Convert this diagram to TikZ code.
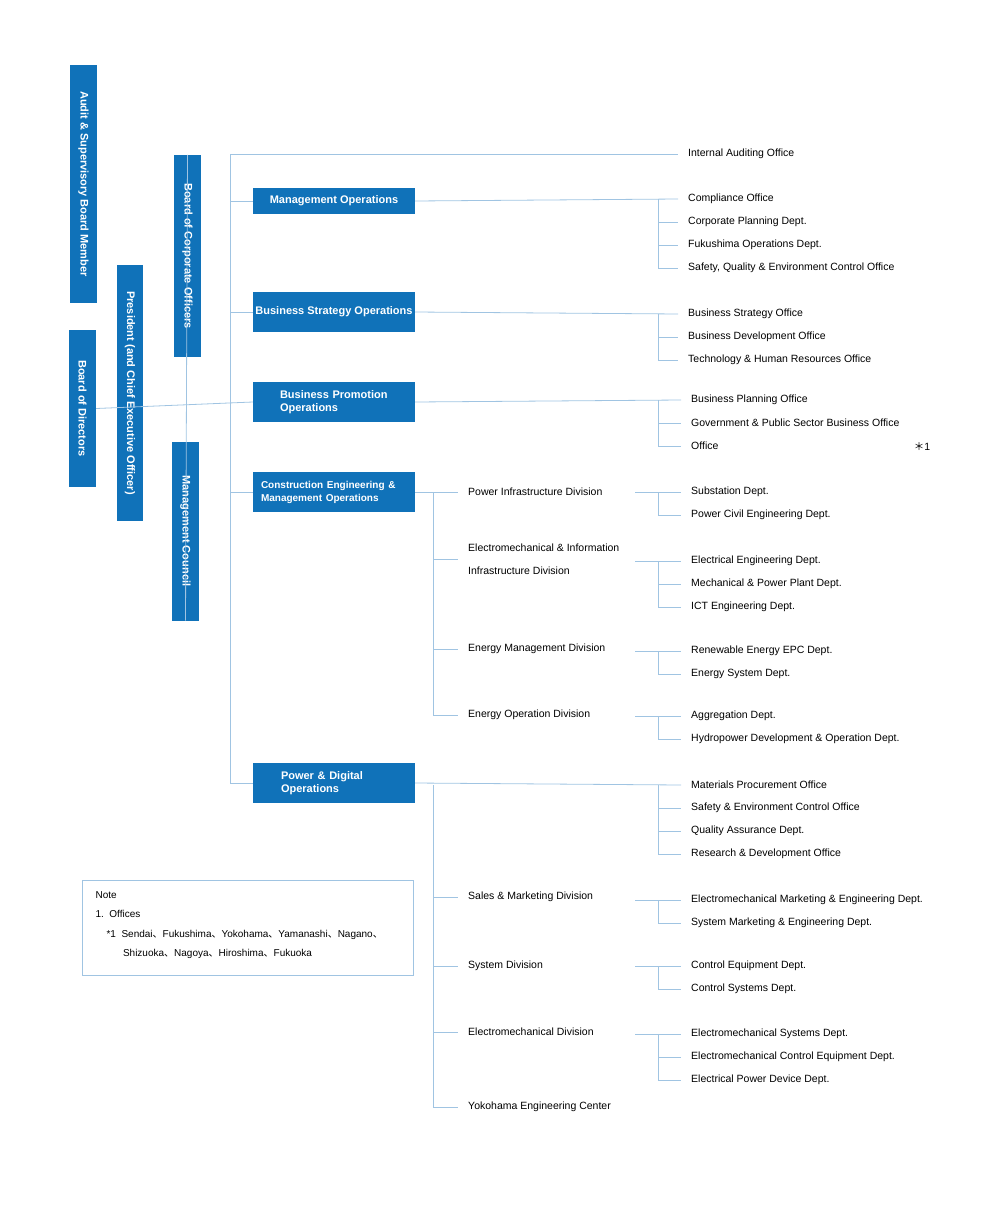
\documentclass[tikz,border=0pt]{standalone}
\usepackage{fontspec}
\setmainfont{Liberation Sans}
\newfontfamily\cjk{Noto Sans CJK JP}
\definecolor{boxblue}{RGB}{16,114,185}
\definecolor{linkblue}{RGB}{160,196,226}
\begin{document}
\begin{tikzpicture}[x=1pt,y=-1pt,
  vbox/.style={fill=boxblue,text=white,font=\bfseries\fontsize{11}{13}\selectfont,rotate=-90,inner sep=0pt},
  obox/.style={fill=boxblue,text=white,font=\bfseries\fontsize{11}{13}\selectfont,minimum width=162pt,align=left,inner sep=0pt},
  item/.style={anchor=west,inner xsep=10pt,inner ysep=1pt,font=\fontsize{10.5}{23}\selectfont,align=left},
  link/.style={draw=linkblue,line width=0.8pt}]
\useasboundingbox (0,0) rectangle (1000,1215);

% top management
\node[vbox,minimum width=238pt,minimum height=27pt] (audit) at (83.5,184) {Audit \& Supervisory Board Member};
\node[vbox,minimum width=157pt,minimum height=27pt] (board) at (82.5,408.5) {Board of Directors};
\node[vbox,minimum width=256pt,minimum height=26pt] (pres) at (130,393) {President (and Chief Executive Officer)};
\node[vbox,minimum width=202pt,minimum height=27pt] (bco) at (187.5,256) {Board of Corporate Officers};
\node[vbox,minimum width=179pt,minimum height=27pt] (council) at (185.5,531) {Management Council};

% operations
\node[obox,minimum height=26pt,align=center] (mgmt) at (334,201) {Management Operations};
\node[obox,minimum height=40pt,align=center] (strat) at (334,312) {Business Strategy Operations};
\node[obox,minimum height=40pt,text width=108pt] (promo) at (334,402) {Business Promotion\\Operations};
\node[obox,minimum height=40pt,text width=146pt] (cons) at (334,492) {\fontsize{10}{13}\selectfont Construction Engineering \&\\Management Operations};
\node[obox,minimum height=40pt,text width=106pt] (power) at (334,783) {Power \& Digital\\Operations};

% offices
\node[item] (audoff) at (678,154) {Internal Auditing Office};
\node[item] (m1) at (678,199) {Compliance Office};
\node[item] (m2) at (678,222) {Corporate Planning Dept.};
\node[item] (m3) at (678,245) {Fukushima Operations Dept.};
\node[item] (m4) at (678,268) {Safety, Quality \& Environment Control Office};
\node[item] (s1) at (678,314) {Business Strategy Office};
\node[item] (s2) at (678,337) {Business Development Office};
\node[item] (s3) at (678,360) {Technology \& Human Resources Office};
\node[item] (p1) at (681,400) {Business Planning Office};
\node[item] (p2) at (681,423) {Government \& Public Sector Business Office};
\node[item] (p3) at (681,446) {Office};
\node[font=\fontsize{10.5}{12}\selectfont] (star) at (922,447) {{\cjk ＊}1};

% construction divisions
\node[item] (c1) at (458,492) {Power Infrastructure Division};
\node[item] (c2) at (458,559) {Electromechanical \& Information\\Infrastructure Division};
\node[item] (c3) at (458,649) {Energy Management Division};
\node[item] (c4) at (458,715) {Energy Operation Division};
\node[item] (c1a) at (681,492) {Substation Dept.};
\node[item] (c1b) at (681,515) {Power Civil Engineering Dept.};
\node[item] (c2a) at (681,561) {Electrical Engineering Dept.};
\node[item] (c2b) at (681,584) {Mechanical \& Power Plant Dept.};
\node[item] (c2c) at (681,607) {ICT Engineering Dept.};
\node[item] (c3a) at (681,651) {Renewable Energy EPC Dept.};
\node[item] (c3b) at (681,674) {Energy System Dept.};
\node[item] (c4a) at (681,716) {Aggregation Dept.};
\node[item] (c4b) at (681,739) {Hydropower Development \& Operation Dept.};

% power & digital
\node[item] (d1) at (681,785) {Materials Procurement Office};
\node[item] (d2) at (681,808) {Safety \& Environment Control Office};
\node[item] (d3) at (681,831) {Quality Assurance Dept.};
\node[item] (d4) at (681,854) {Research \& Development Office};
\node[item] (e1) at (458,897) {Sales \& Marketing Division};
\node[item] (e2) at (458,966) {System Division};
\node[item] (e3) at (458,1032) {Electromechanical Division};
\node[item] (e4) at (458,1107) {Yokohama Engineering Center};
\node[item] (e1a) at (681,900) {Electromechanical Marketing \& Engineering Dept.};
\node[item] (e1b) at (681,923) {System Marketing \& Engineering Dept.};
\node[item] (e2a) at (681,966) {Control Equipment Dept.};
\node[item] (e2b) at (681,989) {Control Systems Dept.};
\node[item] (e3a) at (681,1034) {Electromechanical Systems Dept.};
\node[item] (e3b) at (681,1057) {Electromechanical Control Equipment Dept.};
\node[item] (e3c) at (681,1080) {Electrical Power Device Dept.};

% note
\node[draw=linkblue,line width=0.8pt,minimum width=331pt,minimum height=95pt,anchor=north west] (note) at (82,880) {};
\node[anchor=north west,font=\fontsize{10}{19.5}\selectfont,align=left] (notetext) at (92,888)
  {Note\\1.\ \ Offices\\\hspace*{1.1em}*1\ \ Sendai{\cjk 、}Fukushima{\cjk 、}Yokohama{\cjk 、}Yamanashi{\cjk 、}Nagano{\cjk 、}\\\hspace*{2.75em}Shizuoka{\cjk 、}Nagoya{\cjk 、}Hiroshima{\cjk 、}Fukuoka};

% connectors
\begin{scope}[link]
\coordinate (trunktop) at (230,154);
\coordinate (trunkbot) at (230,783);
\draw (board.north) -- (promo.west);
\draw (bco.west) -- (council.east);
\draw (trunktop) -- (audoff.west);
\draw (trunktop) -- (trunkbot) -- (power.west);
\foreach \op in {mgmt,strat,cons} \draw (trunktop |- \op.west) -- (\op.west);
% operation branches
\draw (mgmt.east) -- (m1.west);
\draw (658,199) -- (658,268);
\foreach \n in {m2,m3,m4} \draw (658,0 |- \n.west) -- (\n.west);
\draw (strat.east) -- (s1.west);
\draw (658,314) -- (658,360);
\foreach \n in {s2,s3} \draw (658,0 |- \n.west) -- (\n.west);
\draw (promo.east) -- (p1.west);
\draw (658,400) -- (658,446);
\foreach \n in {p2,p3} \draw (658,0 |- \n.west) -- (\n.west);
% construction
\draw (cons.east) -- (c1.west);
\draw (433,492) -- (433,715);
\foreach \n in {c2,c3,c4} \draw (433,0 |- \n.west) -- (\n.west);
\foreach \d/\a/\l in {c1/c1a/c1b,c2/c2a/c2c,c3/c3a/c3b,c4/c4a/c4b}{
  \draw (635,0 |- \a.west) -- (\a.west);
  \draw (658,0 |- \a.west) -- (658,0 |- \l.west) -- (\l.west);}
\draw (658,0 |- c2b.west) -- (c2b.west);
% power & digital
\draw (power.east) -- (d1.west);
\draw (658,785) -- (658,854);
\foreach \n in {d2,d3,d4} \draw (658,0 |- \n.west) -- (\n.west);
\draw (433,785) -- (433,1107);
\foreach \n in {e1,e2,e3,e4} \draw (433,0 |- \n.west) -- (\n.west);
\foreach \a/\l in {e1a/e1b,e2a/e2b,e3a/e3c}{
  \draw (635,0 |- \a.west) -- (\a.west);
  \draw (658,0 |- \a.west) -- (658,0 |- \l.west) -- (\l.west);}
\draw (658,0 |- e3b.west) -- (e3b.west);
\end{scope}
\end{tikzpicture}
\end{document}
